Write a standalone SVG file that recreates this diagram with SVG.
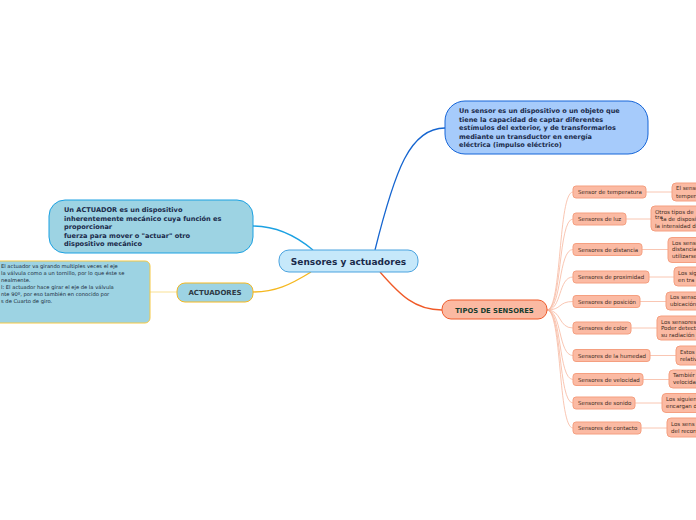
<svg xmlns="http://www.w3.org/2000/svg" width="696" height="520" viewBox="0 0 696 520">
<style>
text{font-family:"DejaVu Sans","Verdana",sans-serif}
.b{font-weight:bold}
.sub rect{fill:#fbbaa3;stroke:#f59f80;stroke-width:1}
.sub text{font-size:5.5px;fill:#3b2a22}
.desc rect{fill:#fbbaa3;stroke:#f59f80;stroke-width:1}
.desc text{font-size:5.5px;fill:#3b2a22}
.lk{fill:none;stroke:#f8b8a0;stroke-width:0.8}
</style>
<rect width="696" height="520" fill="#ffffff"/>
<g id="connectors" fill="none">
<path d="M375,250 C395,170 410,128 445,128" stroke="#1565d0" stroke-width="1.3"/>
<path d="M313,250 C295,235 275,226 253,226" stroke="#1ba1e2" stroke-width="1.3"/>
<path d="M311,272 C290,285 275,292 253,292" stroke="#f5b820" stroke-width="1.3"/>
<path d="M380,272 C400,295 415,310 442,310" stroke="#f05a28" stroke-width="1.3"/>
<path d="M177,292 L150,292" stroke="#f8d97a" stroke-width="0.8"/>
<path class="lk" d="M547,310 C562,310 558,192 573,192"/>
<path class="lk" d="M547,310 C562,310 558,219 573,219"/>
<path class="lk" d="M547,310 C562,310 558,249.5 573,249.5"/>
<path class="lk" d="M547,310 C562,310 558,277 573,277"/>
<path class="lk" d="M547,310 C562,310 558,301.5 573,301.5"/>
<path class="lk" d="M547,310 C562,310 558,328 573,328"/>
<path class="lk" d="M547,310 C562,310 558,355.5 573,355.5"/>
<path class="lk" d="M547,310 C562,310 558,379.5 573,379.5"/>
<path class="lk" d="M547,310 C562,310 558,403 573,403"/>
<path class="lk" d="M547,310 C562,310 558,428 573,428"/>
<path class="lk" d="M646,192 L672,192"/>
<path class="lk" d="M626,219 L651,219"/>
<path class="lk" d="M642,249.5 L668,249.5"/>
<path class="lk" d="M649,277 L674,277"/>
<path class="lk" d="M640,301.5 L666,301.5"/>
<path class="lk" d="M631,328 L657,328"/>
<path class="lk" d="M650,355.5 L676,355.5"/>
<path class="lk" d="M643,379.5 L669,379.5"/>
<path class="lk" d="M635,403 L662,403"/>
<path class="lk" d="M641,428 L667,428"/>
</g>
<g id="center">
<rect x="279" y="250" width="139" height="22" rx="10" fill="#c6e8fa" stroke="#4aa3df" stroke-width="1"/>
<text x="348.5" y="264.5" class="b" font-size="9" fill="#1a2a4a" text-anchor="middle">Sensores y actuadores</text>
</g>
<g id="sensor-def">
<rect x="445" y="101" width="203" height="53" rx="20" fill="#a6cbfb" stroke="#1565d8" stroke-width="1"/>
<g class="b" font-size="6.5" fill="#1a2a4a">
<text x="459" y="113">Un sensor es un dispositivo o un objeto que</text>
<text x="459" y="121.5">tiene la capacidad de captar diferentes</text>
<text x="459" y="130">estímulos del exterior, y de transformarlos</text>
<text x="459" y="138.5">mediante un transductor en energía</text>
<text x="459" y="147">eléctrica (impulso eléctrico)</text>
</g>
</g>
<g id="actuador-def">
<rect x="49" y="200" width="204" height="53" rx="16" fill="#9dd3e3" stroke="#1ba1e2" stroke-width="1"/>
<g class="b" font-size="6.6" fill="#1a2a4a">
<text x="64" y="212">Un ACTUADOR es un dispositivo</text>
<text x="64" y="220.5">inherentemente mecánico cuya función es</text>
<text x="64" y="229">proporcionar</text>
<text x="64" y="237.5">fuerza para mover o "actuar" otro</text>
<text x="64" y="246">dispositivo mecánico</text>
</g>
</g>
<g id="actuadores">
<rect x="177" y="283" width="76" height="19" rx="8" fill="#9dd3e3" stroke="#f5b820" stroke-width="1"/>
<text x="215" y="295" class="b" font-size="7" fill="#2e3a44" text-anchor="middle">ACTUADORES</text>
</g>
<g id="actuadores-tipos">
<rect x="-10" y="261" width="160" height="62" rx="5" fill="#9dd3e3" stroke="#f5c842" stroke-width="1"/>
<g font-size="5.2" fill="#1a2a3a">
<text x="1" y="268">El actuador va girando multiples veces el eje</text>
<text x="1" y="275">la válvula como a un tornillo, por lo que éste se</text>
<text x="1" y="282">nealmente.</text>
<text x="1" y="289">l: El actuador hace girar el eje de la válvula</text>
<text x="1" y="296">nte 90º, por eso también en conocido por</text>
<text x="1" y="303">s de Cuarto de giro.</text>
</g>
</g>
<g id="tipos">
<rect x="442" y="300" width="105" height="19" rx="9" fill="#fbb9a2" stroke="#ee5a2a" stroke-width="1"/>
<text x="494.5" y="312.5" class="b" font-size="6.8" fill="#163d2e" text-anchor="middle">TIPOS DE SENSORES</text>
</g>
<g id="s-temp" class="sub"><rect x="573" y="186" width="73" height="12" rx="3"/><text x="578" y="194">Sensor de temperatura</text></g>
<g id="s-luz" class="sub"><rect x="573" y="213" width="53" height="12" rx="3"/><text x="578" y="221">Sensores de luz</text></g>
<g id="s-dist" class="sub"><rect x="573" y="243.5" width="69" height="12" rx="3"/><text x="578" y="251.5">Sensores de distancia</text></g>
<g id="s-prox" class="sub"><rect x="573" y="271" width="76" height="12" rx="3"/><text x="578" y="279">Sensores de proximidad</text></g>
<g id="s-pos" class="sub"><rect x="573" y="295.5" width="67" height="12" rx="3"/><text x="578" y="303.5">Sensores de posición</text></g>
<g id="s-color" class="sub"><rect x="573" y="322" width="58" height="12" rx="3"/><text x="578" y="330">Sensores de color</text></g>
<g id="s-hum" class="sub"><rect x="573" y="349.5" width="77" height="12" rx="3"/><text x="578" y="357.5">Sensores de la humedad</text></g>
<g id="s-vel" class="sub"><rect x="573" y="373.5" width="70" height="12" rx="3"/><text x="578" y="381.5">Sensores de velocidad</text></g>
<g id="s-son" class="sub"><rect x="573" y="397" width="62" height="12" rx="3"/><text x="578" y="405">Sensores de sonido</text></g>
<g id="s-cont" class="sub"><rect x="573" y="422" width="68" height="12" rx="3"/><text x="578" y="430">Sensores de contacto</text></g>
<g id="d-temp" class="desc"><rect x="672" y="183" width="40" height="18" rx="4"/><text x="676" y="190">El sensor</text><text x="676" y="197.5">temperatura</text></g>
<g id="d-luz" class="desc"><rect x="651" y="206" width="60" height="25" rx="4"/><text x="655" y="213.5">Otros tipos de</text><text x="655" y="219">tra</text><text x="661" y="221">ta de dispositivos</text><text x="655" y="228">la intensidad de</text></g>
<g id="d-dist" class="desc"><rect x="668" y="237.5" width="40" height="25" rx="4"/><text x="672" y="244.5">Los sensores</text><text x="672" y="251">distancia</text><text x="672" y="257.5">utilizarse</text></g>
<g id="d-prox" class="desc"><rect x="674" y="267" width="40" height="19" rx="4"/><text x="678" y="275">Los sig</text><text x="678" y="282">en tra</text></g>
<g id="d-pos" class="desc"><rect x="666" y="292" width="40" height="18" rx="4"/><text x="670" y="299">Los senso</text><text x="670" y="305.5">ubicación</text></g>
<g id="d-color" class="desc"><rect x="657" y="316" width="50" height="24" rx="4"/><text x="661" y="323.5">Los sensores</text><text x="661" y="330">Poder detect</text><text x="661" y="336.5">su radiación</text></g>
<g id="d-hum" class="desc"><rect x="676" y="346" width="30" height="19" rx="4"/><text x="680" y="353.5">Estos</text><text x="680" y="360.5">relativ</text></g>
<g id="d-vel" class="desc"><rect x="669" y="370" width="40" height="18" rx="4"/><text x="673" y="377">Tambiér</text><text x="673" y="384">velocida</text></g>
<g id="d-son" class="desc"><rect x="662" y="393.5" width="45" height="19" rx="4"/><text x="666" y="401">Los siguien</text><text x="666" y="408">encargan d</text></g>
<g id="d-cont" class="desc"><rect x="667" y="418" width="40" height="19" rx="4"/><text x="671" y="425.5">Los sens</text><text x="671" y="432.5">del recorr</text></g>
</svg>
